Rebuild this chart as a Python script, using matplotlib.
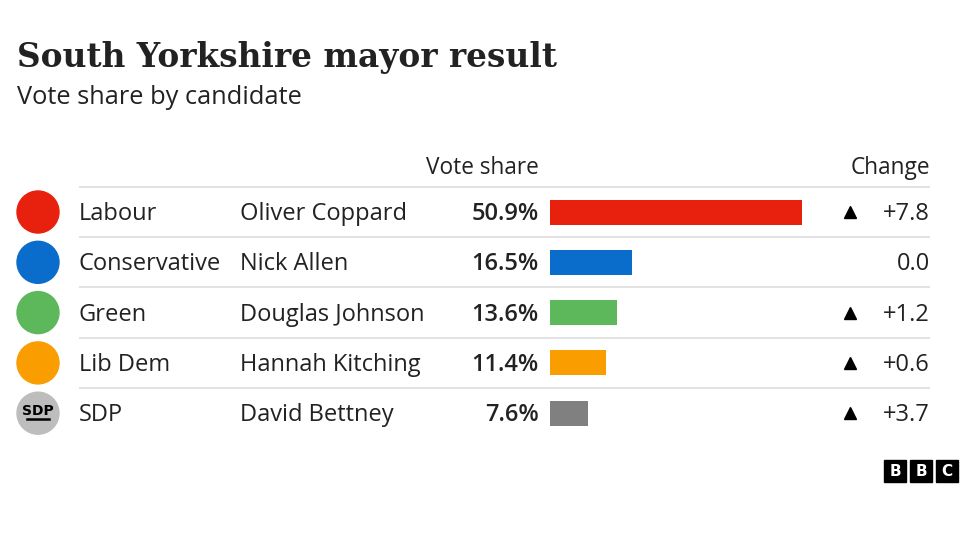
import matplotlib
matplotlib.use("Agg")
from matplotlib import pyplot as plt
from matplotlib.patches import Circle, Rectangle

parties = ["Labour", "Conservative", "Green", "Lib Dem", "SDP"]
candidates = ["Oliver Coppard", "Nick Allen", "Douglas Johnson", "Hannah Kitching", "David Bettney"]
shares = [50.9, 16.5, 13.6, 11.4, 7.6]
changes = [7.8, 0.0, 1.2, 0.6, 3.7]
bar_colors = ["#e8200e", "#0a6ccb", "#5db75b", "#fa9d00", "#808080"]
icon_colors = ["#e8200e", "#0a6ccb", "#5db75b", "#fa9d00", "#bdbdbd"]

W, H = 976, 549
fig = plt.figure(figsize=(W / 100, H / 100), dpi=100)
ax = fig.add_axes([0, 0, 1, 1])
ax.set_xlim(0, W)
ax.set_ylim(H, 0)
ax.axis("off")

sans = ["Open Sans", "DejaVu Sans"]
txt = "#222222"

ax.text(17, 58, "South Yorkshire mayor result", fontsize=23.6, family="DejaVu Serif",
        weight="bold", color=txt, va="center")
ax.text(17, 98, "Vote share by candidate", fontsize=18.3, family=sans, color=txt, va="center")

ax.text(539, 168, "Vote share", fontsize=16.3, family=sans, color=txt, ha="right", va="center")
ax.text(930, 168, "Change", fontsize=16.3, family=sans, color=txt, ha="right", va="center")

row0, step = 212, 50.3
rows = [row0 + i * step for i in range(len(parties))]
px_per_pct = 252 / 50.9
bar_x0 = 550

# separators
for i in range(len(parties)):
    y = rows[i] - step / 2
    ax.plot([79, 930], [y, y], color="#dddddd", lw=1.2, solid_capstyle="butt")

ax.barh(rows, [s * px_per_pct for s in shares], left=bar_x0, height=25, color=bar_colors)

for i, y in enumerate(rows):
    ax.add_patch(Circle((38, y), 21, color=icon_colors[i]))
    if parties[i] == "SDP":
        ax.text(38, y - 2, "SDP", fontsize=10, weight="bold", family="DejaVu Sans",
                color="black", ha="center", va="center")
        ax.plot([27, 49], [y + 6, y + 6], color="black", lw=1.8)
    ty = y + 2
    ax.text(79, ty, parties[i], fontsize=17, family=sans, color=txt, va="center")
    ax.text(240, ty, candidates[i], fontsize=17, family=sans, color=txt, va="center")
    ax.text(539, ty, f"{shares[i]:.1f}%", fontsize=17, family=sans, color=txt,
            weight="semibold", ha="right", va="center")
    sign = "+" if changes[i] > 0 else ""
    ax.text(930, ty, f"{sign}{changes[i]:.1f}", fontsize=17, family=sans, color=txt,
            ha="right", va="center")
    if changes[i] > 0:
        ax.plot(850, y, marker="^", color="black", markersize=9)

# BBC logo
for j, ch in enumerate("BBC"):
    x = 884 + j * 26
    ax.add_patch(Rectangle((x, 460), 22, 22, color="black"))
    ax.text(x + 11, 471.5, ch, fontsize=11, weight="bold", family="DejaVu Sans",
            color="white", ha="center", va="center")

fig.savefig("out.png", dpi=100)
plt.close("all")
